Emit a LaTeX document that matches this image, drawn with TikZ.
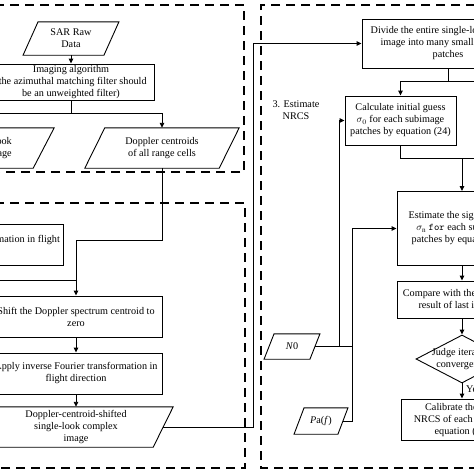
\documentclass[tikz,border=0pt]{standalone}
\usepackage{fontspec}
\setmainfont{Liberation Serif}
\usetikzlibrary{arrows.meta,shapes.geometric,calc}
\newcommand{\fs}{\fontsize{10.2}{12}\selectfont}
\newcommand{\paral}[2]{\draw[ln] ($(#1.north west)+(#2,0)$) -- ($(#1.north east)+(#2,0)$) -- ($(#1.south east)-(#2,0)$) -- ($(#1.south west)-(#2,0)$) -- cycle;}
\tikzset{
  box/.style={draw, line width=0.9pt, align=center, inner sep=0pt, font=\fs},
  iotext/.style={align=center, inner sep=0pt, font=\fs},
  arr/.style={line width=0.9pt, -{Triangle[length=5pt,width=4.5pt]}},
  ln/.style={line width=0.9pt},
  frame/.style={line width=1.4pt, dash pattern=on 9pt off 6pt},
}
\begin{document}
\begin{tikzpicture}[x=1pt,y=-1pt]
\useasboundingbox (0,0) rectangle (474,474);
\clip (0,0) rectangle (474,474);
\fill[white] (0,0) rectangle (474,474);

% frames
\draw[frame] (-5,5) -- (244,5) -- (244,172) -- (-5,172);
\draw[frame] (-5,203) -- (245,203) -- (245,468) -- (-5,468);
\draw[frame] (490,5) -- (261,5) -- (261,468) -- (490,468);

% section 1
\node (sar) [iotext, minimum width=80.5pt, minimum height=33pt] at (71,38.5) {SAR Raw\\Data};
\paral{sar}{7.5}
\node (imaging) [box, minimum width=166pt, minimum height=36pt] at (71,82) {Imaging algorithm\\(the azimuthal matching filter should\\be an unweighted filter)};
\node (single) [iotext, minimum width=111pt, minimum height=40pt] at (-12,148) {Single-look\\SAR image};
\paral{single}{10.5}
\node (dopp) [iotext, minimum width=134pt, minimum height=40pt] at (162,148) {Doppler centroids\\of all range cells};
\paral{dopp}{10}

\draw[arr] (sar.south) -- (imaging.north);
\draw[ln] (imaging.south) -- (71,113) coordinate (split);
\draw[arr] (split) -| (single.north);
\draw[arr] (split) -| (dopp.north);

% section 2
\node (fourier) [box, minimum width=162pt, minimum height=41pt] at (-18,244.5) {Apply Fourier transformation in flight\\direction};
\node (shift) [box, minimum width=172pt, minimum height=41pt] at (76,316.5) {Shift the Doppler spectrum centroid to\\zero};
\node (inv) [box, minimum width=172pt, minimum height=41pt] at (76,373.5) {Apply inverse Fourier transformation in\\flight direction};
\node (slc) [iotext, minimum width=174pt, minimum height=40pt] at (76,427) {Doppler-centroid-shifted\\single-look complex\\image};
\paral{slc}{10}

\coordinate (dturn) at (162,240);
\draw[arr] (dopp.south) -- (dturn) -| (shift.north);
\draw[ln] (fourier.south) |- (shift.north |- 0,280);
\draw[arr] (shift.south) -- (inv.north);
\draw[arr] (inv.south) -- (slc.north);

% section 3
\node (lbl) [iotext] at (296,110) {3. Estimate\\NRCS};
\node (divide) [box, minimum width=172pt, minimum height=49pt] at (448,43.5) {Divide the entire single-look complex\\image into many small subimage\\patches};
\node (calc) [box, minimum width=111pt, minimum height=49pt] at (400.5,120.5) {Calculate initial guess\\$\sigma_0$ for each subimage\\patches by equation (24)};
\node (calc2) [box, minimum width=116pt, minimum height=49pt] at (532,120.5) {};
\node (est) [box, minimum width=130pt, minimum height=74pt] at (462,228.5) {Estimate the signal NRCS\\$\sigma_{\mathrm{n}}$ \texttt{for} each subimage\\patches by equation (25)};
\node (comp) [box, minimum width=130pt, minimum height=37pt] at (462,299.5) {Compare with the estimation\\result of last iteration};
\node (judge) [diamond, draw, line width=0.9pt, minimum width=92pt, minimum height=48pt, inner sep=0pt] at (462,359) {};
\node (judgetext) [iotext] at (462,359.5) {Judge iteration\\convergence};
\node (calib) [box, minimum width=122pt, minimum height=41pt] at (462,419.5) {Calibrate the final\\NRCS of each patch by\\equation (27)};
\node (yes) [iotext, anchor=west] at (466,389) {Yes};
\node (n0) [iotext, minimum width=45.5pt, minimum height=25pt] at (292,346.5) {\textit{N}0};
\paral{n0}{5}
\node (pa) [iotext, minimum width=43.5pt, minimum height=26pt] at (321,421) {\textit{P}a(\textit{f})};
\paral{pa}{5}

\draw[arr] (slc.east) -- ++(90,0) |- (divide.west);
\draw[ln] (divide.south) -- (448,81) coordinate (dsplit);
\draw[arr] (dsplit) -| (calc.north);
\draw[arr] (dsplit) -| (calc2.north);
\coordinate (cjoin) at (462,158);
\draw[ln] (calc.south) |- (cjoin);
\draw[ln] (calc2.south) |- (cjoin);
\draw[arr] (cjoin) -- (est.north);
\draw[arr] (est.south) -- (comp.north);
\draw[arr] (comp.south) -- (judge.north);
\draw[arr] (judge.south) -- (calib.north);
\coordinate (nj) at (339,346.5);
\draw[ln] (n0.east) -- (352,346.5);
\draw[arr] (nj) |- (calc.west);
\draw[arr] (pa.east) -- ++(9.5,0) |- (est.west);
\end{tikzpicture}
\end{document}
